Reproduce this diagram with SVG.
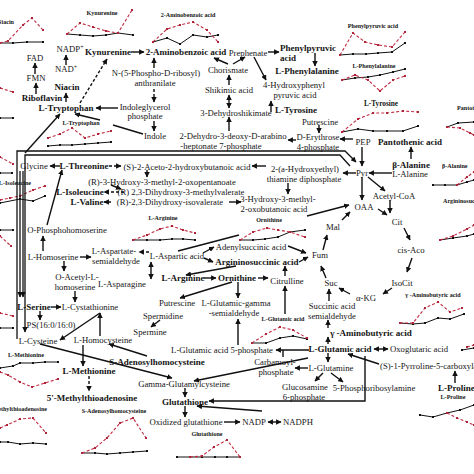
<svg xmlns="http://www.w3.org/2000/svg" width="474" height="474" viewBox="0 0 474 474">
<defs>
<style>
.r{font-family:"Liberation Serif","Times New Roman",serif;font-size:8.7px;text-anchor:middle;fill:#151515}
.b{font-family:"Liberation Serif","Times New Roman",serif;font-size:9px;font-weight:bold;text-anchor:middle;fill:#151515}
.s{font-family:"Liberation Serif","Times New Roman",serif;font-size:6.1px;font-weight:bold;text-anchor:middle;fill:#151515}
.st{text-anchor:start}
.en{text-anchor:end}
.c{stroke:#111;stroke-width:1.4;fill:none;marker-end:url(#ah)}
.cd{stroke:#111;stroke-width:1.4;fill:none;stroke-dasharray:3 2;marker-end:url(#ah)}
.cb{stroke:#111;stroke-width:1.4;fill:none;marker-end:url(#ah);marker-start:url(#ahs)}
.ln{stroke:#111;stroke-width:1.4;fill:none}
.bx{stroke:#111;stroke-width:1.3;fill:none}
.k{stroke:#111;stroke-width:1;fill:none;marker-start:url(#mk);marker-mid:url(#mk);marker-end:url(#mk)}
.rd{stroke:#c22c42;stroke-width:1.1;fill:none;stroke-dasharray:3 2;marker-start:url(#mr);marker-mid:url(#mr);marker-end:url(#mr)}
</style>
<marker id="ah" viewBox="0 0 10 10" refX="9" refY="5" markerWidth="5.5" markerHeight="5.5" markerUnits="userSpaceOnUse" orient="auto"><path d="M0,0 L10,5 L0,10 z" fill="#111"/></marker>
<marker id="ahs" viewBox="0 0 10 10" refX="9" refY="5" markerWidth="5.5" markerHeight="5.5" markerUnits="userSpaceOnUse" orient="auto-start-reverse"><path d="M0,0 L10,5 L0,10 z" fill="#111"/></marker>
<marker id="mk" viewBox="0 0 4 4" refX="2" refY="2" markerWidth="2.6" markerHeight="2.6" markerUnits="userSpaceOnUse"><rect width="4" height="4" fill="#111"/></marker>
<marker id="mr" viewBox="0 0 4 4" refX="2" refY="2" markerWidth="2.8" markerHeight="2.8" markerUnits="userSpaceOnUse"><rect width="4" height="4" fill="#b0243a"/></marker>
</defs>
<rect width="474" height="474" fill="#fff"/>

<g id="charts">
<g id="chart-niacin"><text class="s en" x="14" y="24">Niacin</text><polyline class="k" points="0,43 13,43 27,42 43,42"/><polyline class="rd" points="0,43 8,41 23,25 32,18 43,30"/></g>
<g id="chart-kynurenine"><text class="s" x="102" y="15">Kynurenine</text><polyline class="k" points="67,34 80,35 93,36 106,35 118,33 133,35"/><polyline class="rd" points="67,34 80,23 93,27 106,31 118,33 132,10"/></g>
<g id="chart-aminobenzoic"><text class="s" x="188" y="17">2-Aminobenzoic acid</text><polyline class="k" points="153,42 167,38 180,44 193,35 207,37 218,35"/><polyline class="rd" points="153,42 167,29 180,25 193,22 207,30 218,42"/></g>
<g id="chart-tryptophan"><text class="s" x="81" y="125">L-Tryptophan</text><polyline class="k" points="48,146 60,145 72,145 85,144 98,143 111,142"/><polyline class="rd" points="48,138 60,134 72,128 85,138 98,134 111,131"/></g>
<g id="chart-phenylpyruvic"><text class="s" x="373" y="28">Phenylpyruvic acid</text><polyline class="k" points="340,55 353,54 366,54 378,53 392,52 405,43"/><polyline class="rd" points="340,55 353,33 365,42 378,45 392,47 405,32"/></g>
<g id="chart-phenylalanine"><text class="s" x="374" y="68">L-Phenylalanine</text><polyline class="k" points="342,80 355,78 368,77 380,75 393,72 405,69"/><polyline class="rd" points="342,80 355,75 368,80 380,91 393,80 405,76"/></g>
<g id="chart-tyrosine"><text class="s" x="381" y="106" style="font-size:7.3px">L-Tyrosine</text><polyline class="k" points="342,132 358,129 373,131 387,131 403,131 418,126"/><polyline class="rd" points="342,132 358,119 373,113 387,113 403,111 418,112"/></g>
<g id="chart-pantothenic"><text class="s st" x="457" y="110">Pantothenic acid</text><polyline class="k" points="447,127 458,123 474,122"/><polyline class="rd" points="447,127 460,128 470,133 474,135"/></g>
<g id="chart-balanine"><text class="s st" x="442" y="168">β-Alanine</text><polyline class="k" points="433,185 445,185 457,185 467,182 474,180"/><polyline class="rd" points="457,185 467,177 474,172"/></g>
<g id="chart-argininosuccinic"><text class="s st" x="443" y="203">Argininosuccinic acid</text><polyline class="k" points="440,240 453,238 467,236 474,234"/><polyline class="rd" points="440,240 453,236 467,229 474,225"/></g>
<g id="chart-gaba"><text class="s" x="433" y="297">γ -Aminobutyric acid</text><polyline class="k" points="400,323 413,324 425,323 438,318 450,319 464,314"/><polyline class="rd" points="400,323 413,323 425,308 438,302 450,312 462,308"/></g>
<g id="chart-oxoglutaric"><polyline class="k" points="462,350 474,348"/><polyline class="rd" points="467,347 474,345"/></g>
<g id="chart-proline"><text class="s" x="453" y="399">L-Proline</text><polyline class="k" points="420,415 433,417 447,413 460,410 474,405"/><polyline class="rd" points="447,413 457,418 467,422 474,425"/></g>
<g id="chart-isoleucine"><text class="s en" x="31" y="185">L-Isoleucine</text><polyline class="k" points="0,203 20,199 33,201 45,196"/><polyline class="rd" points="0,200 10,198 20,196 33,190 45,186"/></g>
<g id="chart-arginine"><text class="s" x="163" y="220">L-Arginine</text><polyline class="k" points="133,240 147,240 160,240 172,239 183,239 195,240"/><polyline class="rd" points="133,240 147,235 160,229 172,226 183,230 195,233"/></g>
<g id="chart-ornithine"><text class="s" x="269" y="222">Ornithine</text><polyline class="k" points="240,240 253,240 265,239 278,237 290,232 305,230"/><polyline class="rd" points="240,240 253,232 267,228 278,230 290,232 305,237"/></g>
<g id="chart-glutamic"><text class="s" x="283" y="321">L-Glutamic acid</text><polyline class="k" points="252,343 266,343 280,338 293,336 307,339"/><polyline class="rd" points="252,343 266,334 280,327 293,330 307,338"/></g>
<g id="chart-methionine"><text class="s" x="26" y="357">L-Methionine</text><polyline class="k" points="0,368 13,366 20,363 33,363 45,362 58,362"/><polyline class="rd" points="0,372 8,375 20,382 32,387 45,383 58,379"/></g>
<g id="chart-mta"><text class="s en" x="47" y="411">5'-Methylthioadenosine</text><polyline class="k" points="0,442 8,442 20,444 33,443 46,444"/><polyline class="rd" points="0,428 7,425 20,419 33,418 46,433"/></g>
<g id="chart-sah"><text class="s" x="114" y="413">S-Adenosylhomocysteine</text><polyline class="k" points="82,453 95,453 107,454 120,453 133,452 147,451"/><polyline class="rd" points="82,453 95,448 107,438 120,423 133,418 146,438"/></g>
<g id="chart-glutathione"><text class="s" x="207" y="436">Glutathione</text><polyline class="k" points="177,457 190,457 202,457 215,457 227,457 240,457"/><polyline class="rd" points="190,457 202,456 214,447 227,440 240,457"/></g>
<g id="chart-fragments"><polyline class="rd" points="0,88 13,92"/><polyline class="k" points="0,118 13,118"/><polyline class="rd" points="0,157 13,164"/><polyline class="k" points="0,173 12,173"/><polyline class="k" points="0,230 13,230"/><polyline class="rd" points="0,236 11,246"/><polyline class="rd" points="0,313 13,316"/><polyline class="k" points="0,328 13,328"/></g>
</g>

<g id="connectors">
<path class="bx" d="M17,339 V151 H345 L356,162" marker-end="url(#ah)"/>
<path class="bx" d="M350,166 L340,155 H25 V332" marker-end="url(#ah)"/>
<path class="bx" d="M20,171 V297" marker-end="url(#ah)"/>
<path class="bx" d="M23,171 V297" marker-end="url(#ah)"/>
<path class="c" d="M35,74 V63"/>
<path class="c" d="M36,94 V83"/>
<path class="c" d="M66,65 V55"/>
<path class="c" d="M66,102 V93"/>
<path class="cd" d="M80,103 L107,59"/>
<path class="c" d="M131,52 H144"/>
<path class="c" d="M154,68 V58"/>
<path class="cd" d="M154,89 V102"/>
<path class="c" d="M154,121 V131"/>
<path class="c" d="M118,108 H96"/>
<path class="ln" d="M143,134 L113,125"/>
<path class="c" d="M100,120 L75,114"/>
<path class="c" d="M25,153 L60,114"/>
<path class="c" d="M228,64 L214,58"/>
<path class="c" d="M233,64 L245,57"/>
<path class="c" d="M268,52 H279"/>
<path class="c" d="M254,57 L266,80"/>
<path class="c" d="M315,53 V66"/>
<path class="c" d="M229,85 V75"/>
<path class="cb" d="M229,108 V95"/>
<path class="c" d="M229,131 V117"/>
<path class="c" d="M296,140 H288"/>
<path class="c" d="M271,112 V101"/>
<path class="c" d="M319,125 V133"/>
<path class="c" d="M353,139 H340"/>
<path class="c" d="M362,147 V166"/>
<path class="c" d="M411,159 V147"/>
<path class="c" d="M392,173 H369"/>
<path class="c" d="M356,173 H343"/>
<path class="c" d="M266,166 H252"/>
<path class="c" d="M362,177 V200"/>
<path class="c" d="M368,177 L385,191"/>
<path class="c" d="M390,200 V213"/>
<path class="c" d="M378,209 L387,215"/>
<path class="c" d="M404,228 L410,240"/>
<path class="c" d="M412,258 L407,272"/>
<path class="c" d="M392,288 L383,294"/>
<path class="c" d="M350,294 L339,288"/>
<path class="c" d="M329,301 V289"/>
<path class="c" d="M326,278 L321,266"/>
<path class="c" d="M323,250 L327,235"/>
<path class="c" d="M342,220 L350,212"/>
<path class="ln" d="M178,251 L239,235"/>
<path class="c" d="M307,216 L349,205"/>
<path class="c" d="M203,253 L214,247"/>
<path class="c" d="M204,258 L213,262"/>
<path class="c" d="M288,246 L306,253"/>
<path class="c" d="M299,262 L308,257"/>
<path class="c" d="M236,266 L186,275"/>
<path class="c" d="M204,278 H216"/>
<path class="c" d="M258,278 H268"/>
<path class="c" d="M285,276 V266"/>
<path class="c" d="M285,314 V286"/>
<path class="c" d="M232,282 L180,298"/>
<path class="c" d="M238,282 V298"/>
<path class="c" d="M160,320 L151,327"/>
<path class="c" d="M238,345 V319"/>
<path class="c" d="M309,350 H276"/>
<path class="ln" d="M283,350 V357"/>
<path class="c" d="M308,368 H295"/>
<path class="c" d="M328,353 V362"/>
<path class="c" d="M323,373 L315,381"/>
<path class="c" d="M331,373 L343,382"/>
<path class="c" d="M328,344 V337"/>
<path class="c" d="M328,328 V320"/>
<path class="cb" d="M374,349 H388"/>
<path class="c" d="M379,364 L348,354"/>
<path class="c" d="M455,383 V371"/>
<path class="c" d="M365,356 V401 H209"/>
<path class="c" d="M308,358 L194,381"/>
<path class="c" d="M40,344 L172,378"/>
<path class="c" d="M185,388 V397"/>
<path class="c" d="M185,406 V417"/>
<path class="c" d="M262,411 L197,406"/>
<path class="c" d="M224,422 H240"/>
<path class="cb" d="M268,422 H281"/>
<path class="cd" d="M89,376 V391"/>
<path class="c" d="M83,345 V366"/>
<path class="c" d="M147,356 L109,344"/>
<path class="c" d="M100,336 V313"/>
<path class="c" d="M100,313 L60,340"/>
<path class="c" d="M51,307 H61"/>
<path class="c" d="M40,311 V320"/>
<path class="c" d="M75,291 V302"/>
<path class="c" d="M64,261 V271"/>
<path class="c" d="M80,257 H91"/>
<path class="c" d="M43,251 V236"/>
<path class="c" d="M47,225 L62,170"/>
<path class="c" d="M60,166 H50"/>
<path class="cd" d="M109,166 H121"/>
<path class="c" d="M147,170 V177"/>
<path class="c" d="M111,185 L121,189"/>
<path class="cd" d="M124,192 H104"/>
<path class="cd" d="M111,202 H104"/>
<path class="c" d="M229,202 H241"/>
<path class="c" d="M288,183 V194"/>
<path class="cd" d="M149,252 H139"/>
<path class="cb" d="M151,262 V279"/>
</g>

<g id="nodes">
<g id="n-nadp"><text class="r" x="70" y="52">NADP<tspan dy="-3" font-size="6">+</tspan></text></g>
<g id="n-fad"><text class="r" x="35" y="61">FAD</text></g>
<g id="n-nad"><text class="r" x="66" y="72">NAD<tspan dy="-3" font-size="6">+</tspan></text></g>
<g id="n-fmn"><text class="r" x="36" y="81">FMN</text></g>
<g id="n-niacin"><text class="b" x="67" y="90">Niacin</text></g>
<g id="n-riboflavin"><text class="b" x="42" y="101">Riboflavin</text></g>
<g id="n-tryptophan"><text class="b" x="66" y="111">L-Tryptophan</text></g>
<g id="n-kynurenine"><text class="b" x="108" y="55">Kynurenine</text></g>
<g id="n-aminobenzoic"><text class="b" x="186" y="55">2-Aminobenzoic acid</text></g>
<g id="n-prpa"><text class="r" x="156" y="76">N-(5-Phospho-D-ribosyl)</text><text class="r" x="155" y="86">anthranilate</text></g>
<g id="n-igp"><text class="r" x="145" y="110">Indoleglycerol</text><text class="r" x="145" y="119">phosphate</text></g>
<g id="n-indole"><text class="r" x="155" y="139">Indole</text></g>
<g id="n-prephenate"><text class="r" x="248" y="56">Prephenate</text></g>
<g id="n-phenylpyruvic"><text class="b st" x="280" y="51">Phenylpyruvic</text><text class="b st" x="280" y="61">acid</text></g>
<g id="n-chorismate"><text class="r" x="228" y="73">Chorismate</text></g>
<g id="n-phenylalanine"><text class="b" x="307" y="74">L-Phenylalanine</text></g>
<g id="n-shikimic"><text class="r" x="229" y="93">Shikimic acid</text></g>
<g id="n-hpp"><text class="r" x="294" y="88">4-Hydroxyphenyl</text><text class="r" x="295" y="98">pyruvic acid</text></g>
<g id="n-dhs"><text class="r" x="236" y="116">3-Dehydroshikimate</text></g>
<g id="n-tyrosine"><text class="b" x="296" y="113">L-Tyrosine</text></g>
<g id="n-putrescine1"><text class="r" x="320" y="125">Putrescine</text></g>
<g id="n-dahp"><text class="r" x="233" y="139">2-Dehydro-3-deoxy-D-arabino</text><text class="r" x="221" y="149">-heptonate 7-phosphate</text></g>
<g id="n-e4p"><text class="r" x="318" y="140">D-Erythrose</text><text class="r" x="318" y="150">4-phosphate</text></g>
<g id="n-pep"><text class="r" x="363" y="145">PEP</text></g>
<g id="n-pantothenic"><text class="b" x="410" y="145">Pantothenic acid</text></g>
<g id="n-glycine"><text class="r" x="34" y="169">Glycine</text></g>
<g id="n-threonine"><text class="b" x="84" y="169">L-Threonine</text></g>
<g id="n-ahb"><text class="r" x="187" y="170">(S)-2-Aceto-2-hydroxybutanoic acid</text></g>
<g id="n-htpp"><text class="r" x="305" y="172">2-(a-Hydroxyethyl)</text><text class="r" x="304" y="182">thiamine diphosphate</text></g>
<g id="n-pyr"><text class="r" x="362" y="176">Pyr</text></g>
<g id="n-balanine"><text class="b" x="411" y="168">β-Alanine</text></g>
<g id="n-lalanine"><text class="r" x="410" y="177">L-Alanine</text></g>
<g id="n-hmop"><text class="r" x="162" y="185">(R)-3-Hydroxy-3-methyl-2-oxopentanoate</text></g>
<g id="n-isoleucine"><text class="b" x="80" y="195">L-Isoleucine</text></g>
<g id="n-dhmv"><text class="r" x="181" y="195">(R) 2,3-Dihydroxy-3-methylvalerate</text></g>
<g id="n-valine"><text class="b" x="87" y="205">L-Valine</text></g>
<g id="n-dhiv"><text class="r" x="170" y="205">(R)-2,3-Dihydroxy-isovalerate</text></g>
<g id="n-hmob"><text class="r" x="278" y="202">3-Hydroxy-3-methyl-</text><text class="r" x="274" y="212">2-oxobutanoic acid</text></g>
<g id="n-acetylcoa"><text class="r" x="394" y="199">Acetyl-CoA</text></g>
<g id="n-oaa"><text class="r" x="364" y="210">OAA</text></g>
<g id="n-cit"><text class="r" x="397" y="225">Cit</text></g>
<g id="n-mal"><text class="r" x="333" y="230">Mal</text></g>
<g id="n-phosphohomoserine"><text class="r" x="67" y="233">O-Phosphohomoserine</text></g>
<g id="n-adenylsuccinic"><text class="r" x="251" y="250">Adenylsuccinic acid</text></g>
<g id="n-cisaco"><text class="r" x="411" y="253">cis-Aco</text></g>
<g id="n-fum"><text class="r" x="320" y="258">Fum</text></g>
<g id="n-homoserine"><text class="r" x="53" y="260">L-Homoserine</text></g>
<g id="n-asa"><text class="r" x="114" y="254">L-Aspartate-</text><text class="r" x="116" y="264">semialdehyde</text></g>
<g id="n-aspartic"><text class="r" x="177" y="259">L-Aspartic acid</text></g>
<g id="n-argininosuccinic"><text class="b" x="257" y="265">Argininosuccinic acid</text></g>
<g id="n-oacetylhomoserine"><text class="r" x="77" y="280">O-Acetyl-L-</text><text class="r" x="75" y="290">homoserine</text></g>
<g id="n-arginine"><text class="b" x="183" y="281">L-Arginine</text></g>
<g id="n-ornithine"><text class="b" x="237" y="281">Ornithine</text></g>
<g id="n-citrulline"><text class="r" x="287" y="284">Citrulline</text></g>
<g id="n-asparagine"><text class="r" x="122" y="287">L-Asparagine</text></g>
<g id="n-suc"><text class="r" x="331" y="286">Suc</text></g>
<g id="n-isocit"><text class="r" x="402" y="286">IsoCit</text></g>
<g id="n-akg"><text class="r" x="366" y="301">α-KG</text></g>
<g id="n-putrescine2"><text class="r" x="177" y="306">Putrescine</text></g>
<g id="n-gsa"><text class="r" x="236" y="306">L-Glutamic-gamma</text><text class="r" x="234" y="316">-semialdehyde</text></g>
<g id="n-ssa"><text class="r" x="332" y="309">Succinic acid</text><text class="r" x="332" y="319">semialdehyde</text></g>
<g id="n-serine"><text class="b" x="34" y="310">L-Serine</text></g>
<g id="n-cystathionine"><text class="r" x="90" y="310">L-Cystathionine</text></g>
<g id="n-spermidine"><text class="r" x="163" y="319">Spermidine</text></g>
<g id="n-ps"><text class="r" x="51" y="328">PS(16:0/16:0)</text></g>
<g id="n-spermine"><text class="r" x="150" y="335">Spermine</text></g>
<g id="n-gaba"><text class="b" x="371" y="336">γ -Aminobutyric acid</text></g>
<g id="n-cysteine"><text class="r" x="38" y="344">L-Cysteine</text></g>
<g id="n-homocysteine"><text class="r" x="103" y="343">L-Homocysteine</text></g>
<g id="n-glutamic"><text class="b" x="340" y="352">L-Glutamic acid</text></g>
<g id="n-oxoglutaric"><text class="r" x="419" y="352">Oxoglutaric acid</text></g>
<g id="n-g5p"><text class="r" x="222" y="353">L-Glutamic acid 5-phosphate</text></g>
<g id="n-carbamoyl"><text class="r" x="275" y="365">Carbamoyl-</text><text class="r" x="276" y="375">phosphate</text></g>
<g id="n-sah"><text class="b" x="157" y="365">S-Adenosylhomocysteine</text></g>
<g id="n-p5c"><text class="r st" x="380" y="369">(S)-1-Pyrroline-5-carboxylate</text></g>
<g id="n-glutamine"><text class="r" x="331" y="371">L-Glutamine</text></g>
<g id="n-methionine"><text class="b" x="89" y="374">L-Methionine</text></g>
<g id="n-ggc"><text class="r" x="184" y="387">Gamma-Glutamylcysteine</text></g>
<g id="n-glucosamine"><text class="r" x="305" y="390">Glucosamine</text><text class="r" x="304" y="400">6-phosphate</text></g>
<g id="n-pra"><text class="r" x="374" y="391">5-Phosphoribosylamine</text></g>
<g id="n-proline"><text class="b st" x="438" y="391">L-Proline</text></g>
<g id="n-mta"><text class="b" x="92" y="401">5'-Methylthioadenosine</text></g>
<g id="n-glutathione"><text class="b" x="185" y="405">Glutathione</text></g>
<g id="n-gssg"><text class="r" x="186" y="425">Oxidized glutathione</text></g>
<g id="n-nadp2"><text class="r" x="254" y="425">NADP</text></g>
<g id="n-nadph"><text class="r" x="298" y="425">NADPH</text></g>
</g>
</svg>
